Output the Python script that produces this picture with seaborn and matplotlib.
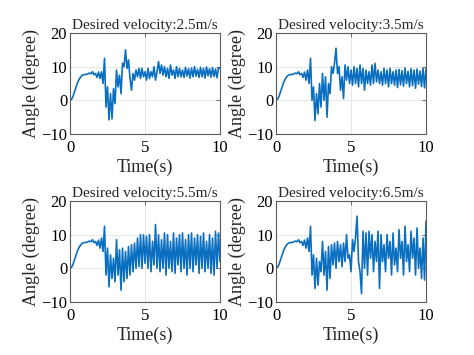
import numpy as np
import pandas as pd
import matplotlib
matplotlib.use("Agg")
import matplotlib.pyplot as plt
import seaborn as sns

# sample times, 0.1 s step
time_s = np.round(np.arange(101) * 0.1, 1)

# common start-up part 0 - 1.9 s
start = [0.0, 0.3, 1.2, 2.5, 3.9, 5.2, 6.2, 6.9, 7.4, 7.6,
         7.7, 7.7, 7.9, 8.1, 7.9, 8.5, 7.6, 8.0, 6.8, 8.4]

angle_25 = start + [
    6.5, 8.5, 5.0, 12.5, -2.0, 4.0, -5.8, 2.0, -5.5, 3.5,
    -1.0, 9.0, 4.0, 7.5, 2.0, 11.0, 10.0, 15.0, 9.5, 12.0,
    6.5, 3.0, 8.0, 6.0, 9.0, 7.0, 9.5, 6.5, 9.5, 7.0,
    8.5, 6.0, 9.5, 6.5, 8.5, 7.0, 10.0, 6.0, 8.5, 11.5,
    8.0, 10.5, 7.5, 10.0, 7.0, 9.5, 6.5, 10.5, 7.5, 9.0,
    6.5, 10.0, 7.0, 9.5, 7.0, 9.0, 6.8, 9.8, 7.2, 9.4,
    6.6, 9.6, 7.0, 10.0, 7.2, 9.2, 6.8, 9.8, 7.0, 9.5,
    6.6, 9.9, 7.3, 9.4, 6.9, 9.7, 7.1, 9.3, 6.7, 9.6, 9.5]

angle_35 = start + [
    6.0, 9.0, 5.0, 12.5, 0.0, 4.0, -6.0, 2.0, -4.0, 5.0,
    -2.0, 8.0, 0.0, 7.0, -5.0, 5.0, 2.0, 10.0, 8.0, 11.0,
    15.5, 8.0, 10.0, 3.0, 7.0, 0.5, 10.5, 6.0, 10.0, 5.0,
    9.0, 4.5, 10.0, 5.0, 9.5, 4.0, 10.5, 5.0, 9.5, 3.0,
    9.0, 5.0, 8.5, 4.5, 10.5, 5.0, 11.0, 5.5, 9.0, 5.0,
    8.5, 4.5, 9.5, 5.0, 9.0, 4.0, 9.5, 5.0, 8.5, 4.5,
    9.0, 3.8, 9.2, 4.6, 8.8, 4.2, 9.6, 5.0, 8.6, 4.0,
    9.4, 4.4, 9.0, 3.6, 9.3, 4.8, 8.7, 4.1, 9.5, 3.7, 9.5]

angle_55 = start + [
    6.0, 9.0, 5.0, 12.5, -2.0, 6.0, -5.5, 4.0, -3.0, 3.0,
    -4.0, 8.5, -2.0, 5.5, -6.5, 6.0, -4.0, 5.0, -3.0, 6.5,
    -2.0, 7.0, -1.0, 7.5, 0.0, 9.0, 0.5, 10.0, 0.0, 10.0,
    1.5, 9.5, 0.0, 10.0, -1.0, 8.0, 1.0, 13.0, 0.0, 10.0,
    -1.0, 8.5, 0.0, 10.5, -2.0, 10.0, 0.0, 8.0, -1.0, 10.5,
    -1.5, 9.0, 1.0, 10.0, -1.0, 10.5, 0.0, 8.5, -2.0, 10.0,
    0.0, 10.5, -1.0, 9.0, 1.0, 10.0, -1.5, 9.5, 0.0, 10.5,
    -1.0, 8.0, 0.0, 10.0, -1.5, 9.0, -2.0, 11.0, 0.0, 10.5, 2.0]

angle_65 = start + [
    6.0, 9.0, 5.0, 12.5, -2.0, 4.0, -6.0, 3.0, -5.0, 2.0,
    -1.0, 8.0, -2.0, 5.0, -6.5, 6.5, -3.0, 7.0, 1.0, 7.5,
    0.0, 8.0, 2.0, 7.0, 0.5, 7.5, 2.0, 10.0, 3.0, 4.0,
    -1.0, 8.5, 5.0, 9.0, 15.5, 2.0, -1.0, -7.5, 11.0, 0.0,
    10.5, -2.0, 11.0, 3.0, 10.0, -1.0, 8.0, 2.0, 11.0, -6.0,
    10.0, 2.0, 7.0, -1.0, 10.0, 3.0, 8.0, -2.0, 10.5, 1.0,
    6.0, -1.0, 11.5, 3.0, 8.0, -2.0, 12.5, 2.0, 7.0, -1.0,
    11.0, 3.0, 9.0, -2.0, 12.0, 0.0, 6.0, -3.0, 9.0, -3.5, 14.0]

titles = ["Desired velocity:2.5m/s", "Desired velocity:3.5m/s",
          "Desired velocity:5.5m/s", "Desired velocity:6.5m/s"]
series = [angle_25, angle_35, angle_55, angle_65]

sns.set_theme(style="white")
plt.rcParams['font.family'] = ['Liberation Serif', 'DejaVu Serif']

fig = plt.figure(figsize=(4.74, 3.55), dpi=100)
fig.patch.set_facecolor("white")

# axes boxes in figure fractions (left, bottom, width, height)
boxes = [(0.1477, 0.6225, 0.3165, 0.2845), (0.5823, 0.6225, 0.3165, 0.2845),
         (0.1477, 0.1493, 0.3165, 0.2845), (0.5823, 0.1493, 0.3165, 0.2845)]

for box, title, vals in zip(boxes, titles, series):
    ax = fig.add_axes(box)
    df = pd.DataFrame({"t": time_s, "angle": vals})
    sns.lineplot(data=df, x="t", y="angle", ax=ax, color="#0a6fc0", linewidth=1.2)
    ax.set_xlim(0, 10)
    ax.set_ylim(-10, 20)
    ax.set_xticks([0, 5, 10])
    ax.set_yticks([-10, 0, 10, 20])
    ax.grid(True, color="#e2e2e2", linewidth=0.6)
    ax.set_axisbelow(True)
    for sp in ax.spines.values():
        sp.set_color("#5a5a5a")
        sp.set_linewidth(0.8)
    ax.tick_params(direction="in", length=3, width=0.6, top=True, right=True,
                   labelsize=12, colors="#5a5a5a")
    ax.tick_params(axis="x", pad=4.5)
    ax.tick_params(axis="y", pad=2)
    for lbl in ax.get_xticklabels() + ax.get_yticklabels():
        lbl.set_color("black")
    ax.set_title(title, fontsize=11, pad=3)
    ax.set_xlabel("Time(s)", fontsize=13, labelpad=2)
    ax.set_ylabel("Angle (degree)", fontsize=13, labelpad=1)

fig.savefig("out.png", dpi=100, facecolor="white")
